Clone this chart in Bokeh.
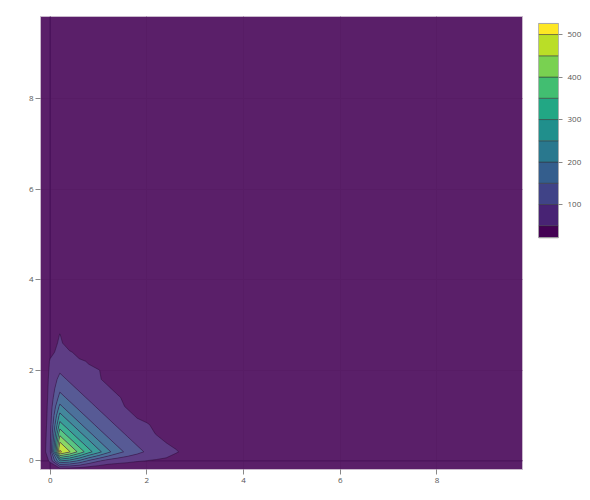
import numpy as np
from bokeh.plotting import figure
from bokeh.layouts import row
from bokeh.models import Range1d, FixedTicker, Span
from bokeh.palettes import Viridis256, linear_palette
from bokeh.embed import file_html
from bokeh.resources import INLINE

# ---- data ----
# histogram bin centres shared by x and y
x_centers = [-0.2, 0.0, 0.2, 0.4, 0.6, 0.8, 1.0, 1.2, 1.4, 1.6, 1.8, 2.0, 2.2, 2.4, 2.6, 2.8, 3.0]
y_centers = [-0.2, 0.0, 0.2, 0.4, 0.6, 0.8, 1.0, 1.2, 1.4, 1.6, 1.8, 2.0, 2.2, 2.4, 2.6, 2.8, 3.0]
# empty bins that close the grid out to the plot edges
empty_edge = [3.2, 10.0]

# counts[j][i] -> bin at (x_centers[i], y_centers[j])
counts = [
    [0, 0, 0, 0, 0, 0, 0, 0, 0, 0, 0, 0, 0, 0, 0, 0, 0],
    [0, 60, 250, 230, 190, 140, 105, 80, 70, 62, 54, 49, 46, 44, 30, 8, 0],
    [0, 95, 510, 455, 385, 318, 266, 212, 167, 138, 115, 93, 72, 62, 54, 40, 20],
    [0, 90, 455, 385, 318, 266, 212, 167, 138, 115, 93, 72, 62, 50, 40, 20, 5],
    [0, 85, 385, 318, 266, 212, 167, 138, 115, 93, 72, 62, 48, 35, 20, 5, 0],
    [0, 80, 318, 266, 212, 167, 138, 115, 93, 72, 62, 54, 40, 20, 5, 0, 0],
    [0, 75, 266, 212, 167, 138, 115, 93, 72, 62, 45, 35, 20, 5, 0, 0, 0],
    [0, 72, 212, 167, 138, 115, 93, 72, 62, 45, 30, 15, 5, 0, 0, 0, 0],
    [0, 68, 167, 138, 115, 93, 72, 62, 54, 40, 20, 5, 0, 0, 0, 0, 0],
    [0, 65, 138, 115, 93, 72, 62, 54, 40, 20, 5, 0, 0, 0, 0, 0, 0],
    [0, 62, 115, 93, 72, 62, 54, 40, 20, 5, 0, 0, 0, 0, 0, 0, 0],
    [0, 58, 93, 72, 62, 54, 52, 35, 10, 0, 0, 0, 0, 0, 0, 0, 0],
    [0, 54, 72, 62, 54, 48, 30, 15, 5, 0, 0, 0, 0, 0, 0, 0, 0],
    [0, 40, 62, 54, 40, 20, 5, 0, 0, 0, 0, 0, 0, 0, 0, 0, 0],
    [0, 25, 58, 30, 10, 0, 0, 0, 0, 0, 0, 0, 0, 0, 0, 0, 0],
    [0, 8, 51, 15, 0, 0, 0, 0, 0, 0, 0, 0, 0, 0, 0, 0, 0],
    [0, 0, 0, 0, 0, 0, 0, 0, 0, 0, 0, 0, 0, 0, 0, 0, 0],
]

contour_levels = [50, 100, 150, 200, 250, 300, 350, 400, 450, 500, 600]
colorbar_edges = [22, 50, 100, 150, 200, 250, 300, 350, 400, 450, 500, 526]
colorbar_ticks = [100, 200, 300, 400, 500]
axis_ticks = [0, 2, 4, 6, 8]

# ---- styling ----
FONT = "Open Sans"
palette = linear_palette(Viridis256, 11)


def blend(hexcol, a=0.88):
    r, g, b = (int(hexcol[k:k + 2], 16) for k in (1, 3, 5))
    return "#%02x%02x%02x" % tuple(int(round(a * c + (1 - a) * 255)) for c in (r, g, b))


fills = [blend(c) for c in palette]

xs = np.array(x_centers + empty_edge)
ys = np.array(y_centers + empty_edge)
Z = np.pad(np.array(counts, dtype=float), ((0, len(empty_edge)), (0, len(empty_edge))))

TOP, BOTTOM, H = 16, 25, 494

p = figure(width=530, height=H, x_range=Range1d(-0.2, 9.77), y_range=Range1d(-0.19, 9.81),
           output_backend="svg", toolbar_location=None,
           min_border_left=40, min_border_right=8, min_border_top=TOP, min_border_bottom=BOTTOM)
p.background_fill_color = fills[0]
p.border_fill_color = "white"
p.outline_line_color = "#c9b9cc"
p.outline_line_width = 1

for g in (p.xgrid, p.ygrid):
    g.ticker = FixedTicker(ticks=axis_ticks)
    g.grid_line_color = "#571c65"
    g.grid_line_width = 1

p.add_layout(Span(location=0, dimension="height", line_color="#48115a", line_width=1.2, level="underlay"))
p.add_layout(Span(location=0, dimension="width", line_color="#4b145c", line_width=1.2, level="underlay"))

p.contour(xs, ys, Z, contour_levels, fill_color=fills[1:], line_color="#2d0c3a",
          line_width=0.7, line_alpha=0.7)

for ax in (p.xaxis[0], p.yaxis[0]):
    ax.ticker = FixedTicker(ticks=axis_ticks)
    ax.axis_line_color = None
    ax.major_tick_in = 0
    ax.major_tick_out = 5
    ax.major_tick_line_color = "#888888"
    ax.minor_tick_line_color = None
    ax.major_label_text_font = FONT
    ax.major_label_text_font_size = "8px"
    ax.major_label_text_color = "#555555"
p.xaxis.major_label_standoff = 3
p.yaxis.major_label_standoff = 2

# ---- colour bar (same frame top/bottom as the main plot; bar sits in its upper part) ----
cb = figure(width=58, height=H, x_range=Range1d(0, 1), y_range=Range1d(-523.5, 542.4),
            output_backend="svg", toolbar_location=None,
            x_axis_location=None, y_axis_location="right",
            min_border_left=8, min_border_right=30, min_border_top=TOP, min_border_bottom=BOTTOM)
cb.grid.visible = False
cb.outline_line_color = None
cb.background_fill_color = "white"
cb.quad(left=0, right=1, bottom=colorbar_edges[:-1], top=colorbar_edges[1:],
        fill_color=palette, line_color="#333333", line_width=0.5)
cb.quad(left=0, right=1, bottom=colorbar_edges[0], top=colorbar_edges[-1],
        fill_color=None, line_color="#aaaaaa", line_width=1)
cax = cb.yaxis[0]
cax.ticker = FixedTicker(ticks=colorbar_ticks)
cax.axis_line_color = None
cax.major_tick_in = 0
cax.major_tick_out = 4
cax.major_tick_line_color = "#888888"
cax.minor_tick_line_color = None
cax.major_label_standoff = 5
cax.major_label_text_font = FONT
cax.major_label_text_font_size = "8px"
cax.major_label_text_color = "#555555"

layout = row(p, cb)
open("out.html", "w").write(file_html(layout, INLINE))
